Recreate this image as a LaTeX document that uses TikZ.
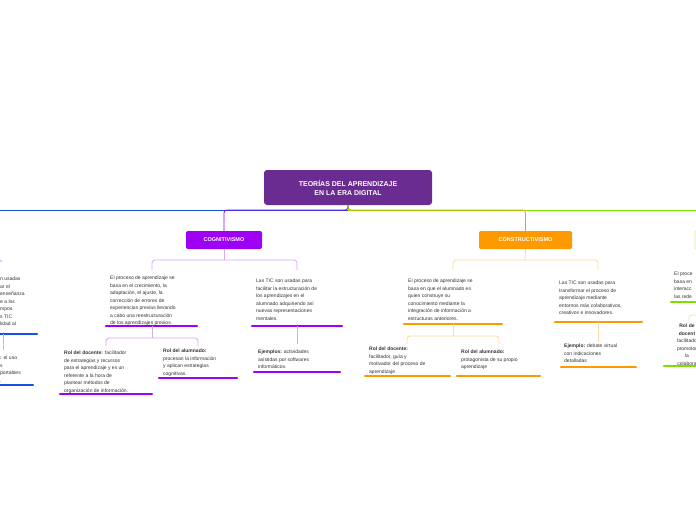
\documentclass[tikz,border=0pt]{standalone}
\usepackage{fontspec}
\setmainfont{Liberation Sans}
\definecolor{cdark}{HTML}{6A2C91}
\definecolor{cpur}{HTML}{9E00F5}
\definecolor{clpur}{HTML}{D9A9F7}
\definecolor{cor}{HTML}{FF9900}
\definecolor{clor}{HTML}{FFD8A0}
\definecolor{cblue}{HTML}{1450E6}
\definecolor{clblue}{HTML}{A8C0F5}
\definecolor{cgreen}{HTML}{7FE000}
\definecolor{clgreen}{HTML}{D4F5A8}
\begin{document}
\begin{tikzpicture}[x=1pt,y=-1pt,
  txt/.style={anchor=north west,inner sep=0pt,align=left,font=\fontsize{5}{7.5}\selectfont,text=black!80},
  ctxt/.style={anchor=north,inner sep=0pt,align=center,font=\fontsize{5}{7.5}\selectfont,text=black!80},
  ul/.style={line width=2.2pt,line cap=round},
  con/.style={line width=0.8pt,rounded corners=3pt},
  mainbox/.style={fill=cdark,rounded corners=3pt,text=white,font=\bfseries\fontsize{7}{9}\selectfont,align=center,minimum width=168pt,minimum height=35pt,inner sep=0pt},
  topic/.style={rounded corners=2pt,text=white,font=\bfseries\fontsize{5.5}{7}\selectfont,minimum height=18pt,inner sep=0pt}]
\useasboundingbox (0,0) rectangle (696,520);
\fill[white] (0,0) rectangle (696,520);
% central
\node[mainbox] (main) at (348,187.5) {TEORÍAS DEL APRENDIZAJE\\EN LA ERA DIGITAL};
\coordinate (mb) at (348,205);
\draw[cblue,line width=0.8pt] (mb) -- (348,210) -- (0,210);
\draw[cgreen,line width=0.8pt] (mb) -- (348,210) -- (696,210);
\node[topic,fill=cpur,minimum width=76pt] (cog) at (224,240) {COGNITIVISMO};
\node[topic,fill=cor,minimum width=93pt] (cons) at (525.5,240) {CONSTRUCTIVISMO};
\draw[cpur,con] (mb) -- (348,210) -| (cog.north);
\draw[cor,con] (mb) -- (348,210) -| (cons.north);
\node[draw=clgreen,line width=0.8pt,rounded corners=2pt,minimum width=10pt,minimum height=18pt,inner sep=0pt] (gr) at (700,240) {};
% cognitivismo branch
\draw[clpur,con] (cog.south) -- (224,260) coordinate (cj);
\draw[clpur,con] (152,270) |- (cj) -| (297,270);
\node[txt] (c1) at (110,276) {El proceso de aprendizaje se\\basa en el crecimiento, la\\adaptación, el ajuste, la\\corrección de errores de\\experiencias previas llevando\\a cabo una reestructuración\\de los aprendizajes previos.};
\draw[cpur,ul] (106,326) coordinate (c1a) -- (197,326) coordinate (c1b);
\node[txt] (c2) at (256,279) {Las TIC son usadas para\\facilitar la estructuración de\\los aprendizajes en el\\alumnado adquiriendo así\\nuevas representaciones\\mentales.};
\draw[cpur,ul] (252,326) -- (342,326);
\draw[clpur,con] (152,326) -- (152,338) coordinate (cj2);
\draw[clpur,con] (106,346) |- (cj2) -| (198,346);
\node[txt] (c11) at (64,351) {\textbf{Rol del docente:} facilitador\\de estrategias y recursos\\para el aprendizaje y es un\\referente a la hora de\\plantear métodos de\\organización de información.};
\draw[cpur,ul] (60,394) -- (152,394);
\node[txt] (c12) at (163,349) {\textbf{Rol del alumnado:}\\procesan la información\\y aplican estrategias\\cognitivas.};
\draw[cpur,ul] (159,378) -- (237,378);
\draw[clpur,con] (297,326) -- (297,344);
\node[txt] (c21) at (258,350) {\textbf{Ejemplos:} actividades\\asistidas por softwares\\informáticos.};
\draw[cpur,ul] (254,372) -- (340,372);
% constructivismo branch
\draw[clor,con] (cons.south) -- (525,260) coordinate (oj);
\draw[clor,con] (453,270) |- (oj) -| (598,270);
\node[txt] (o1) at (408,279) {El proceso de aprendizaje se\\basa en que el alumnado es\\quien construye su\\conocimiento mediante la\\integración de información a\\estructuras anteriores.};
\draw[cor,ul] (404,324) -- (502,324);
\node[txt] (o2) at (559,281) {Las TIC son usadas para\\transformar el proceso de\\aprendizaje mediante\\entornos más colaborativos,\\creativos e innovadores.};
\draw[cor,ul] (555,322) -- (642,322);
\draw[clor,con] (453,324) -- (453,336) coordinate (oj2);
\draw[clor,con] (407,344) |- (oj2) -| (499,344);
\node[txt] (o11) at (369,347) {\textbf{Rol del docente:}\\facilitador, guía y\\motivador del proceso de\\aprendizaje};
\draw[cor,ul] (365,376) -- (450,376);
\node[txt] (o12) at (461,350) {\textbf{Rol del alumnado:}\\protagonista de su propio\\aprendizaje};
\draw[cor,ul] (457,376) -- (540,376);
\draw[clor,con] (598,322) -- (598,342);
\node[txt] (o21) at (564,344) {\textbf{Ejemplo:} debate virtual\\con indicaciones\\detalladas};
\draw[cor,ul] (561,367) -- (636,367);
% blue partial branch
\draw[clblue,con] (0,260) -- (2,262);
\node[txt] (b1) at (0,277) {n usadas\\ar el\\ enseñanza\\e a los\\mpos.\\s TIC\\lidad al};
\draw[cblue,ul] (0,334) -- (37,334);
\draw[clblue,con] (3,334) -- (3,350);
\node[txt] (b2) at (0,356) {\textbf{:} el uso\\s\\portables\\.};
\draw[cblue,ul] (0,385) -- (33,385);
% green partial branch
\node[txt] (g1) at (674,272) {El proce\\basa en\\interacc\\las rede};
\draw[cgreen,ul] (671,302) -- (700,302);
\draw[clgreen,con] (689,322) |- (700,315);
\node[ctxt] (g2) at (687,324) {\textbf{Rol de}\\\textbf{docent}\\facilitado\\promotor\\la\\colabora};
\draw[cgreen,ul] (664,366) -- (700,366);
\end{tikzpicture}
\end{document}
